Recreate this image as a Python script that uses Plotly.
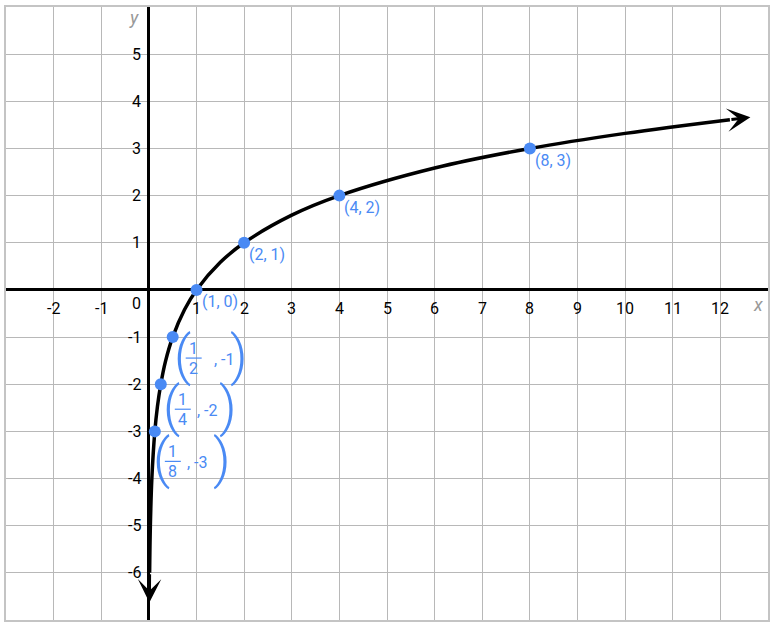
import plotly.graph_objects as go

# curve y = log2(x) (first/last points are the arrow tips)
curve_x = [0.0103, 0.0156, 0.03125, 0.0625, 0.125, 0.18, 0.25, 0.35, 0.5, 0.75, 1, 1.5,
           2, 3, 4, 6, 8, 10, 12.2, 12.63]
curve_y = [-6.63, -6, -5, -4, -3, -2.47, -2, -1.51, -1, -0.415, 0, 0.585,
           1, 1.585, 2, 2.585, 3, 3.32, 3.61, 3.66]

# marked points
point_x = [1/8, 1/4, 1/2, 1, 2, 4, 8]
point_y = [-3, -2, -1, 0, 1, 2, 3]

# labels for the whole-number points (1,0) ... (8,3)
plain_labels = ['(1, 0)', '(2, 1)', '(4, 2)', '(8, 3)']
# labels for the fraction points 1/8, 1/4, 1/2
frac_num = ['1', '1', '1']
frac_den = ['8', '4', '2']
frac_rest = [', -3', ', -2', ', -1']

# tick labels
x_ticks = [-2, -1, 1, 2, 3, 4, 5, 6, 7, 8, 9, 10, 11, 12]
y_ticks = [-6, -5, -4, -3, -2, -1, 1, 2, 3, 4, 5]

blue = '#4a8af4'
grid = '#b8b8b8'
font_name = 'Roboto, Lato, sans-serif'
fsize = 16

fig = go.Figure()

fig.add_trace(go.Scatter(
    x=curve_x[1:-1], y=curve_y[1:-1],
    mode='lines',
    line=dict(color='black', width=3.5, shape='spline', smoothing=1),
    hoverinfo='skip',
))

fig.add_trace(go.Scatter(
    x=point_x, y=point_y,
    mode='markers',
    marker=dict(color=blue, size=12),
    hoverinfo='x+y',
))

annotations = []

# arrowheads at both ends of the curve
for tip, base in [(-1, -2), (0, 1)]:
    annotations.append(dict(
        x=curve_x[tip], y=curve_y[tip], ax=curve_x[base], ay=curve_y[base],
        xref='x', yref='y', axref='x', ayref='y', text='',
        showarrow=True, arrowhead=3, arrowsize=1.3, arrowwidth=3,
        arrowcolor='black', standoff=0, startstandoff=0,
    ))

# axis numbers
tick_font = dict(size=fsize, color='black', family=font_name)
for v in x_ticks:
    annotations.append(dict(
        x=v, y=0, text=str(v), showarrow=False, yshift=-19,
        xanchor='center', yanchor='middle', font=tick_font,
    ))
for v in y_ticks:
    annotations.append(dict(
        x=0, y=v, text=str(v), showarrow=False, xshift=-6,
        xanchor='right', yanchor='middle', font=tick_font,
    ))
annotations.append(dict(
    x=0, y=0, text='0', showarrow=False, xshift=-12, yshift=-14,
    xanchor='center', yanchor='middle', font=tick_font,
))

# axis names
annotations.append(dict(
    x=0, y=6, text='<i>y</i>', showarrow=False, xshift=-15, yshift=-10,
    xanchor='center', yanchor='middle',
    font=dict(size=18, color='#999999', family=font_name),
))
annotations.append(dict(
    x=13, y=0, text='<i>x</i>', showarrow=False, xshift=-10, yshift=-15,
    xanchor='center', yanchor='middle',
    font=dict(size=18, color='#999999', family=font_name),
))

# labels on whole-number points
for i, lab in enumerate(plain_labels):
    annotations.append(dict(
        x=point_x[i + 3], y=point_y[i + 3], text=lab, showarrow=False,
        xanchor='left', yanchor='middle', xshift=3, yshift=-12,
        font=dict(size=fsize, color=blue, family=font_name),
    ))

# fraction labels: big parens around a stacked fraction
# per label: (paren x, paren centre y, fraction x, rest x, close paren x), pixels from the point
frac_offsets = [
    (7, 31, 18, 31, 67),
    (11, 26, 22, 35, 67),
    (10, 22, 21, 40, 66),
]
shapes = []
for i in range(3):
    px, py = point_x[i], point_y[i]
    pxo, pc, fx, rx, cx = frac_offsets[i]
    fnt = dict(size=fsize, color=blue, family=font_name)
    big = dict(size=54, color=blue, family=font_name, weight=300)
    annotations.append(dict(x=px, y=py, text='(', showarrow=False, xanchor='center',
                            yanchor='middle', xshift=pxo, yshift=-(pc - 4), font=big, borderpad=0))
    annotations.append(dict(x=px, y=py, text=frac_num[i], showarrow=False, xanchor='center',
                            yanchor='middle', xshift=fx, yshift=-(pc - 11), font=fnt, borderpad=0))
    annotations.append(dict(x=px, y=py, text=frac_den[i], showarrow=False, xanchor='center',
                            yanchor='middle', xshift=fx, yshift=-(pc + 9), font=fnt, borderpad=0))
    annotations.append(dict(x=px, y=py, text=frac_rest[i], showarrow=False, xanchor='left',
                            yanchor='middle', xshift=rx, yshift=-pc, font=fnt, borderpad=0))
    annotations.append(dict(x=px, y=py, text=')', showarrow=False, xanchor='center',
                            yanchor='middle', xshift=cx, yshift=-(pc - 4), font=big, borderpad=0))
    shapes.append(dict(
        type='line', xref='x', yref='y',
        xsizemode='pixel', xanchor=px, x0=fx - 8, x1=fx + 8,
        ysizemode='pixel', yanchor=py, y0=-(pc - 1), y1=-(pc - 1),
        line=dict(color=blue, width=1.2),
    ))

fig.update_layout(
    width=775, height=625,
    margin=dict(l=6, r=5, t=6, b=5),
    paper_bgcolor='white', plot_bgcolor='white',
    showlegend=False,
    annotations=annotations,
    shapes=shapes,
    xaxis=dict(
        range=[-3, 13], dtick=1, tick0=0,
        showgrid=True, gridcolor=grid, gridwidth=1,
        showticklabels=False, ticks='',
        zeroline=True, zerolinecolor='black', zerolinewidth=2.5,
        showline=True, linecolor='#c4c4c4', linewidth=1.5, mirror=True,
        fixedrange=True,
    ),
    yaxis=dict(
        range=[-7, 6], dtick=1, tick0=0,
        showgrid=True, gridcolor=grid, gridwidth=1,
        showticklabels=False, ticks='',
        zeroline=True, zerolinecolor='black', zerolinewidth=2.5,
        showline=True, linecolor='#c4c4c4', linewidth=1.5, mirror=True,
        fixedrange=True,
    ),
)

# the default page has an 8px body margin; drop it so the figure sits at 0,0
fig.write_html("out.html", config={'displayModeBar': False},
               post_script="document.body.style.margin='0';")
